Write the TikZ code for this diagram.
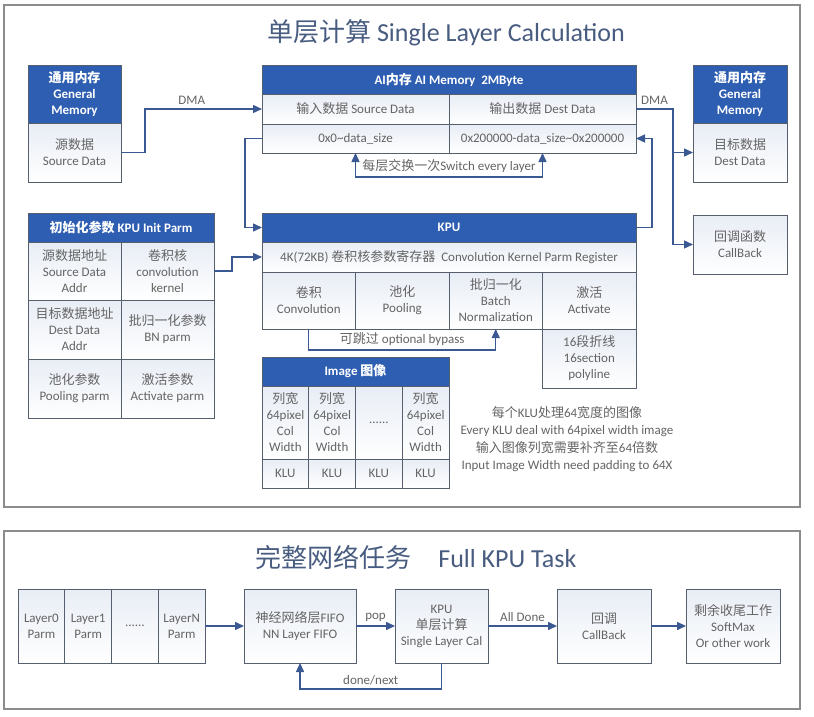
\documentclass[tikz,border=0pt]{standalone}
\usepackage{fontspec}
\setmainfont{Carlito}
\newfontfamily\cjk{Noto Sans CJK SC}
\newcommand\zh[1]{{\cjk #1}}
\usepackage{tikz}
\definecolor{headblue}{RGB}{46,94,178}
\definecolor{boxline}{RGB}{85,95,110}
\definecolor{cellfill}{RGB}{232,237,245}
\definecolor{textgray}{RGB}{100,100,100}
\definecolor{titleblue}{RGB}{72,92,128}
\definecolor{connblue}{RGB}{58,88,145}
\definecolor{framegray}{RGB}{140,140,140}
\usetikzlibrary{
  arrows.meta,
  positioning,
}
\tikzset{
  >={Triangle[length=9pt,width=8pt]},
  box/.style={draw=boxline,line width=0.9pt,rectangle,outer sep=0pt,inner sep=1pt,align=center},
  cell/.style={box,top color=cellfill,bottom color=white,text=textgray,font=\fontsize{13}{16}\selectfont},
  head/.style={box,fill=headblue,text=white,font=\bfseries\fontsize{13}{16}\selectfont},
  conn/.style={draw=connblue,line width=1.4pt,->},
  lbl/.style={text=textgray,font=\fontsize{13}{16}\selectfont},
  title/.style={text=titleblue,font=\fontsize{26}{30}\selectfont},
  frame/.style={draw=framegray,line width=1.2pt},
}

\begin{document}
\begin{tikzpicture}[x=1pt,y=-1pt,node distance=0mm and 0mm]
    \useasboundingbox (0,0) rectangle (814,717);

    % single layer
    \draw[frame] (4,5) rectangle (800,507);
    \node[title]    (title1)    at (446,33)    {\zh{单层计算} Single Layer Calculation};

        \node[head,minimum width=93,minimum height=58]    (gm1h)    at (74.5,94)    {\zh{通用内存}\\General\\Memory};
        \node[cell,minimum width=93,minimum height=59]    (gm1b)    [below=of gm1h]    {\zh{源数据}\\Source Data};

        \node[head,minimum width=374,minimum height=29]    (aih)    at (449,79.5)    {AI\zh{内存} AI Memory\ \ 2MByte};
        \node[cell,minimum width=187,minimum height=30]    (ai1)    [below right=of aih.south west]    {\zh{输入数据} Source Data};
        \node[cell,minimum width=187,minimum height=30]    (ai2)    [right=of ai1]    {\zh{输出数据} Dest Data};
        \node[cell,minimum width=187,minimum height=29]    (ai3)    [below=of ai1]    {0x0\textasciitilde data\_size};
        \node[cell,minimum width=187,minimum height=29]    (ai4)    [right=of ai3]    {0x200000-data\_size\textasciitilde 0x200000};

        \node[head,minimum width=94,minimum height=58]    (gm2h)    at (740,94)    {\zh{通用内存}\\General\\Memory};
        \node[cell,minimum width=94,minimum height=59]    (gm2b)    [below=of gm2h]    {\zh{目标数据}\\Dest Data};
        \node[cell,minimum width=94,minimum height=59]    (cb)    at (740,244.5)    {\zh{回调函数}\\CallBack};

        \node[head,minimum width=186,minimum height=29]    (iph)    at (121,227.5)    {\zh{初始化参数} KPU Init Parm};
        \node[cell,minimum width=93,minimum height=58]    (ip1)    [below right=of iph.south west]    {\zh{源数据地址}\\Source Data\\Addr};
        \node[cell,minimum width=93,minimum height=58]    (ip2)    [right=of ip1]    {\zh{卷积核}\\convolution\\kernel};
        \node[cell,minimum width=93,minimum height=59]    (ip3)    [below=of ip1]    {\zh{目标数据地址}\\Dest Data\\Addr};
        \node[cell,minimum width=93,minimum height=59]    (ip4)    [right=of ip3]    {\zh{批归一化参数}\\BN parm};
        \node[cell,minimum width=93,minimum height=59]    (ip5)    [below=of ip3]    {\zh{池化参数}\\Pooling parm};
        \node[cell,minimum width=93,minimum height=59]    (ip6)    [right=of ip5]    {\zh{激活参数}\\Activate parm};

        \node[head,minimum width=374,minimum height=29]    (kh)    at (449,227.5)    {KPU};
        \node[cell,minimum width=374,minimum height=30]    (kreg)    [below=of kh]    {4K(72KB) \zh{卷积核参数寄存器}\ \ Convolution Kernel Parm Register};
        \node[cell,minimum width=93.5,minimum height=57]    (kc1)    [below right=of kreg.south west]    {\zh{卷积}\\Convolution};
        \node[cell,minimum width=93.5,minimum height=57]    (kc2)    [right=of kc1]    {\zh{池化}\\Pooling};
        \node[cell,minimum width=93.5,minimum height=57]    (kc3)    [right=of kc2]    {\zh{批归一化}\\Batch\\Normalization};
        \node[cell,minimum width=93.5,minimum height=57]    (kc4)    [right=of kc3]    {\zh{激活}\\Activate};
        \node[cell,minimum width=93.5,minimum height=59]    (kpl)    [below=of kc4]    {16\zh{段折线}\\16section\\polyline};

        \node[head,minimum width=187,minimum height=29]    (imh)    at (355.5,371.5)    {Image \zh{图像}};
        \node[cell,minimum width=46.75,minimum height=73]    (im1)    [below right=of imh.south west]    {\zh{列宽}\\64pixel\\Col\\Width};
        \node[cell,minimum width=46.75,minimum height=73]    (im2)    [right=of im1]    {\zh{列宽}\\64pixel\\Col\\Width};
        \node[cell,minimum width=46.75,minimum height=73]    (im3)    [right=of im2]    {......};
        \node[cell,minimum width=46.75,minimum height=73]    (im4)    [right=of im3]    {\zh{列宽}\\64pixel\\Col\\Width};
        \node[cell,minimum width=46.75,minimum height=29]    (klu1)    [below=of im1]    {KLU};
        \node[cell,minimum width=46.75,minimum height=29]    (klu2)    [below=of im2]    {KLU};
        \node[cell,minimum width=46.75,minimum height=29]    (klu3)    [below=of im3]    {KLU};
        \node[cell,minimum width=46.75,minimum height=29]    (klu4)    [below=of im4]    {KLU};

        \node[lbl,align=center,font=\fontsize{13}{17.5}\selectfont]    (klunote)    at (567,439)    {\zh{每个}KLU\zh{处理}64\zh{宽度的图像}\\Every KLU deal with 64pixel width image\\\zh{输入图像列宽需要补齐至}64\zh{倍数}\\Input Image Width need padding to 64X};

    \draw[conn] (gm1b.east) -- ++(24,0) |- node[lbl,pos=0.7,above] {DMA} (ai1.west);
    \draw[conn] (ai2.east) -- node[lbl,above] {DMA} ++(37,0) |- (cb.west);
    \draw[conn] (ai2.east) ++(37,0) |- (gm2b.west);
    \draw[conn] (ai3.west) -- ++(-17,0) |- (kh.west);
    \draw[conn] (kh.east) -- ++(16,0) |- (ai4.east);
    \draw[conn,<->] (ai3.south) -- ++(0,24) -| node[lbl,pos=0.25,above] {\zh{每层交换一次}Switch every layer} (ai4.south);
    \draw[conn] (ip2.east) -- ++(18,0) |- (kreg.west);
    \draw[conn] (kc1.south) -- ++(0,21) -| node[lbl,pos=0.25,above] {\zh{可跳过} optional bypass} (kc3.south);

    % full task
    \draw[frame] (4,531) rectangle (800,709);
    \node[title]    (title2)    at (416,557)    {\zh{完整网络任务}\hspace{0.8em} Full KPU Task};

        \node[cell,minimum width=46.75,minimum height=74]    (l0)    at (41.4,626)    {Layer0\\Parm};
        \node[cell,minimum width=46.75,minimum height=74]    (l1)    [right=of l0]    {Layer1\\Parm};
        \node[cell,minimum width=46.75,minimum height=74]    (l2)    [right=of l1]    {......};
        \node[cell,minimum width=46.75,minimum height=74]    (l3)    [right=of l2]    {LayerN\\Parm};
        \node[cell,minimum width=112,minimum height=74]    (fifo)    [right=39 of l3]    {\zh{神经网络层}FIFO\\NN Layer FIFO};
        \node[cell,minimum width=93,minimum height=74]    (kpu)    [right=39 of fifo]    {KPU\\\zh{单层计算}\\Single Layer Cal};
        \node[cell,minimum width=94,minimum height=74]    (cb2)    [right=69 of kpu]    {\zh{回调}\\CallBack};
        \node[cell,minimum width=94,minimum height=74]    (rest)    [right=35 of cb2]    {\zh{剩余收尾工作}\\SoftMax\\Or other work};

    \draw[conn] (l3.east) -- (fifo.west);
    \draw[conn] (fifo.east) -- node[lbl,above] {pop} (kpu.west);
    \draw[conn] (kpu.east) -- node[lbl,above] {All Done} (cb2.west);
    \draw[conn] (cb2.east) -- (rest.west);
    \draw[conn] (kpu.south) -- ++(0,26) -| node[lbl,pos=0.25,above] {done/next} (fifo.south);

\end{tikzpicture}
\end{document}
